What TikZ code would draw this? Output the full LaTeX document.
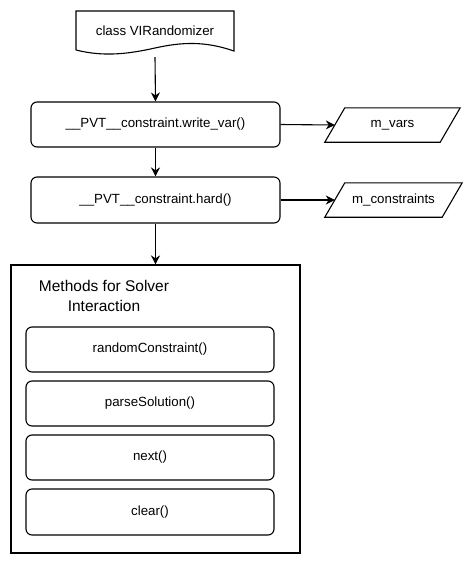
\documentclass[tikz,border=0pt]{standalone}
\usepackage{fontspec}
\setmainfont{Liberation Sans}
\usetikzlibrary{arrows.meta}

\tikzset{
	box/.style={draw, rounded corners=6pt, line width=1.1pt, minimum width=249pt, minimum height=45pt, font=\fontsize{13.3}{16}\selectfont},
	inbox/.style={box, minimum width=248pt},
	datashape/.style={minimum width=115pt, minimum height=34pt, inner sep=0pt, font=\fontsize{13.3}{16}\selectfont},
	flow/.style={-{Stealth[length=9pt,width=9pt]}, line width=1.1pt}
}

\begin{document}
\begin{tikzpicture}[x=1pt,y=-1pt]
			\useasboundingbox (0,0) rectangle (474,566); % page size of the reference
				% document shape on top
				\node[minimum width=158pt, minimum height=46pt, inner sep=0pt, font=\fontsize{13.3}{16}\selectfont] (doc) at (155,34) {\raisebox{6pt}{class VIRandomizer}};
				\draw[line width=1.1pt] (76,50) -- (76,11) -- (234,11) -- (234,51) .. controls (205,41) and (182,42) .. (155,48) .. controls (128,54) and (104,57) .. (76,50);
				% the two calls
				\node[box] (write) at (155.5,124.5) {\_\_PVT\_\_constraint.write\_var()};
				\node[box, minimum height=46pt] (hard) at (155.5,200) {\_\_PVT\_\_constraint.hard()};
				\node[datashape] (vars) at (392.5,125) {m\_vars};
				\node[datashape, minimum width=117pt] (cons) at (393.5,200) {m\_constraints};
				\foreach \d in {vars,cons} % slanted data outlines
					\draw[line width=1.1pt] ([xshift=-10pt]\d.south west) -- ([xshift=10pt]\d.north west) -- ([xshift=10pt]\d.north east) -- ([xshift=-10pt]\d.south east) -- cycle;
				% container with the solver methods
				\node[draw, line width=1.1pt, minimum width=289pt, minimum height=288pt, inner sep=0pt] (solver) at (155.5,409) {};
				\node[align=center, font=\fontsize{15.5}{20}\selectfont] (title) at (104,296) {Methods for Solver\\Interaction};
				\node[inbox] (rand) at (150,349.5) {randomConstraint()};
				\node[inbox] (parse) at (150,403.5) {parseSolution()};
				\node[inbox] (next) at (150,457.5) {next()};
				\node[inbox, minimum height=46pt] (clear) at (150,512) {clear()};
				% connectors
				\draw[flow] (doc.south) -- (write.north);
				\draw[flow] (write.south) -- (hard.north);
				\draw[flow] (hard.south) -- (solver.north);
				\draw[flow] (write.east) -- (vars.west);
				\draw[flow] (hard.east) -- (cons.west);
			\end{tikzpicture}
\end{document}
